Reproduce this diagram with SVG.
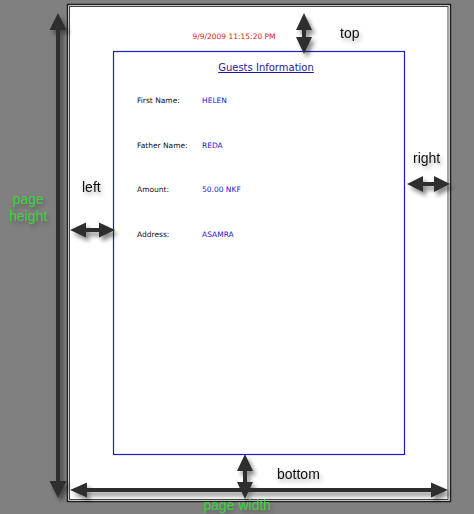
<svg xmlns="http://www.w3.org/2000/svg" width="474" height="514" viewBox="0 0 474 514">
<style>
.lbl{font-family:"Liberation Sans",Arial,sans-serif;font-size:14px;fill:#111}
.grn{font-family:"Liberation Sans",Arial,sans-serif;font-size:14px;fill:#3fd23f}
.frm{font-family:"DejaVu Sans",Verdana,sans-serif;font-size:7.5px}
.key{fill:#111}
.val{fill:#1a1ad0}
.arr{fill:#2e2e2e}
</style>
<defs>
<filter id="sh" x="-50%" y="-50%" width="200%" height="200%">
<feDropShadow dx="3" dy="4" stdDeviation="2" flood-color="#000" flood-opacity="0.45"/>
</filter>
<filter id="tsh" x="-30%" y="-30%" width="160%" height="160%">
<feDropShadow dx="2" dy="3" stdDeviation="2" flood-color="#000" flood-opacity="0.3"/>
</filter>
</defs>
<rect x="0" y="0" width="474" height="514" fill="#808080"/>
<g id="page">
<rect x="67.5" y="4.5" width="383" height="497" fill="#fff" stroke="#1e1e1e" stroke-width="1.5"/>
<rect x="69.5" y="6.5" width="378.5" height="493" fill="none" stroke="#444" stroke-width="1"/>
</g>
<g id="report">
<rect x="113.5" y="51.5" width="291" height="403" fill="none" stroke="#1c1cc8" stroke-width="1.2"/>
<text x="234" y="39" text-anchor="middle" class="frm" fill="#e01818">9/9/2009 11:15:20 PM</text>
<text x="266" y="71" text-anchor="middle" font-family="DejaVu Sans,Verdana,sans-serif" font-size="10" fill="#1c1c9a" text-decoration="underline">Guests Information</text>
<text x="137" y="103" class="frm key">First Name:</text>
<text x="202" y="103" class="frm val">HELEN</text>
<text x="137" y="148" class="frm key">Father Name:</text>
<text x="202" y="148" class="frm val">REDA</text>
<text x="137" y="192" class="frm key">Amount:</text>
<text x="202" y="192" class="frm val">50.00 NKF</text>
<text x="137" y="237" class="frm key">Address:</text>
<text x="202" y="237" class="frm val">ASAMRA</text>
</g>
<g id="connectors" filter="url(#sh)">
<polygon class="arr" points="58,13 66.5,30 60,30 60,481 66.5,481 58,498 49.5,481 56,481 56,30 49.5,30"/>
<polygon class="arr" points="70,490 87,482.5 87,488 431,488 431,482.5 448,490 431,497.5 431,492 87,492 87,497.5"/>
<polygon class="arr" points="304,13 312,30 306,30 306,37 312,37 304,54 296,37 302,37 302,30 296,30"/>
<polygon class="arr" points="245,454 253,471 247,471 247,482 253,482 245,499 237,482 243,482 243,471 237,471"/>
<polygon class="arr" points="70,230 86,222.5 86,228 99,228 99,222.5 115,230 99,237.5 99,232 86,232 86,237.5"/>
<polygon class="arr" points="407,184 423,176 423,182 434,182 434,176 450,184 434,192 434,186 423,186 423,192"/>
</g>
<g id="labels" filter="url(#tsh)">
<text x="340" y="38" class="lbl" font-size="15">top</text>
<text x="413" y="163" class="lbl">right</text>
<text x="82" y="192" class="lbl">left</text>
<text x="277" y="479" class="lbl">bottom</text>
<text x="28" y="204" text-anchor="middle" class="grn">page</text>
<text x="28" y="221" text-anchor="middle" class="grn">height</text>
<text x="237" y="510" text-anchor="middle" class="grn">page width</text>
</g>
</svg>
